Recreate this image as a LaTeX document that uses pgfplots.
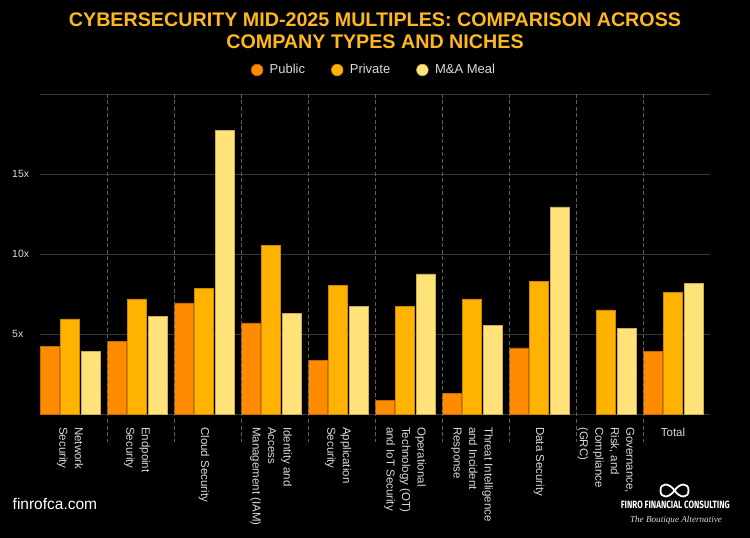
\documentclass[border=0pt]{standalone}
\usepackage{fontspec}
\setmainfont{Liberation Sans}
\newfontfamily\titlefont{Liberation Sans}
\newfontfamily\logofont{Fira Sans}
\newfontfamily\serifit{Liberation Serif}
\usepackage{graphicx}
\usepackage{pgfplots}
\pgfplotsset{compat=1.18}
\definecolor{pubc}{HTML}{FF8C00}
\definecolor{pubd}{HTML}{C86800}
\definecolor{privc}{HTML}{FFB300}
\definecolor{privd}{HTML}{C88800}
\definecolor{mac}{HTML}{FFE27A}
\definecolor{mad}{HTML}{C8AE50}
\definecolor{gridc}{HTML}{373737}
\definecolor{sepc}{HTML}{5E5E5E}
\definecolor{titc}{HTML}{FFB81C}
\definecolor{labc}{HTML}{DADADA}
\pgfplotsset{circlegend/.style={legend image code/.code={\fill[##1] (0pt,0pt) circle (5.8pt);}}}
\begin{document}
\begin{tikzpicture}
\path[use as bounding box, fill=black] (0,0) rectangle (750pt,538pt);
\node[anchor=base, text=titc, font=\titlefont\bfseries\fontsize{19.7}{22}\selectfont] at (375pt,511.3pt) {CYBERSECURITY MID-2025 MULTIPLES: COMPARISON ACROSS};
\node[anchor=base, text=titc, font=\titlefont\bfseries\fontsize{19.7}{22}\selectfont] at (375pt,489.2pt) {COMPANY TYPES AND NICHES};
\begin{axis}[
  at={(40pt,124pt)}, anchor=south west, scale only axis,
  width=670pt, height=320pt,
  xmin=0, xmax=10, ymin=0, ymax=20,
  axis line style={draw=none},
  ytick={0,5,10,15,20}, yticklabels={,5x,10x,15x,},
  ymajorgrids, major grid style={color=gridc, line width=0.8pt},
  major tick length=0pt,
  /pgf/number format/assume math mode=true,
  yticklabel style={anchor=west, inner sep=0pt, xshift=-28pt, font=\fontsize{10.5}{12}\selectfont, text=labc},
  xtick={0.448,1.448,2.448,3.448,4.448,5.448,6.448,7.448,8.448},
  xticklabels={{Network\\Security},{Endpoint\\Security},{Cloud Security},{Identity and\\Access\\Management (IAM)},{Application\\Security},{Operational\\Technology (OT)\\and IoT Security},{Threat Intelligence\\and Incident\\Response},{Data Security},{Governance,\\Risk, and\\Compliance\\(GRC)}},
  xticklabel style={rotate=-90, anchor=west, align=left, inner sep=0pt, font=\fontsize{11.5}{15.5}\selectfont, text=labc},
  xticklabel shift=13pt,
  clip=false,
  legend style={at={(0.4985,1)}, anchor=center, yshift=24pt, draw=none, fill=none, text=labc, font=\fontsize{13}{15}\selectfont, legend columns=3, /tikz/every odd column/.append style={column sep=4.5pt}, /tikz/every even column/.append style={column sep=24pt}},
]
\addplot[ybar, bar width=0.284, bar shift=0pt, fill=pubc, draw=pubd, line width=0.6pt, circlegend] coordinates {(0.142,4.23) (1.142,4.54) (2.142,6.94) (3.142,5.69) (4.142,3.37) (5.142,0.87) (6.142,1.29) (7.142,4.13) (9.142,3.89)};
\addlegendentry{Public}
\addplot[ybar, bar width=0.284, bar shift=0pt, fill=privc, draw=privd, line width=0.6pt, circlegend] coordinates {(0.448,5.94) (1.448,7.19) (2.448,7.83) (3.448,10.54) (4.448,8.02) (5.448,6.73) (6.448,7.19) (7.448,8.27) (8.448,6.50) (9.448,7.58)};
\addlegendentry{Private}
\addplot[ybar, bar width=0.284, bar shift=0pt, fill=mac, draw=mad, line width=0.6pt, circlegend] coordinates {(0.754,3.91) (1.754,6.10) (2.754,17.73) (3.754,6.29) (4.754,6.73) (5.754,8.75) (6.754,5.54) (7.754,12.94) (8.754,5.33) (9.754,8.14)};
\addlegendentry{M\&A Meal}
\pgfplotsinvokeforeach{1,...,9}{\draw[sepc, line width=0.8pt, dash pattern=on 4pt off 2.5pt] (axis cs:#1,20) -- ([yshift=-28pt]axis cs:#1,0);}
\node[anchor=north, inner sep=0pt, text=labc, font=\fontsize{11.5}{15.5}\selectfont] at ([yshift=-14pt]axis cs:9.448,0) {Total};
\end{axis}
\node[anchor=base west, inner sep=0pt, text=white, font=\fontsize{15.5}{18}\selectfont] at (12.5pt,28.7pt) {finrofca.com};
\draw[white, line width=1.8pt] (674.5pt,47.5pt) .. controls (680pt,55.5pt) and (688.5pt,55.5pt) .. (688.5pt,47.5pt) .. controls (688.5pt,39.5pt) and (680pt,39.5pt) .. (674.5pt,47.5pt) .. controls (669pt,55.5pt) and (660.5pt,55.5pt) .. (660.5pt,47.5pt) .. controls (660.5pt,39.5pt) and (669pt,39.5pt) .. (674.5pt,47.5pt);
\node[anchor=base, inner sep=0pt, text=white] at (675.3pt,29pt) {\resizebox{109pt}{7.5pt}{\logofont\bfseries FINRO FINANCIAL CONSULTING}};
\node[anchor=base, inner sep=0pt, text=white!85!black] at (676pt,15.3pt) {\resizebox{92pt}{!}{\serifit\itshape The Boutique Alternative}};
\end{tikzpicture}
\end{document}
